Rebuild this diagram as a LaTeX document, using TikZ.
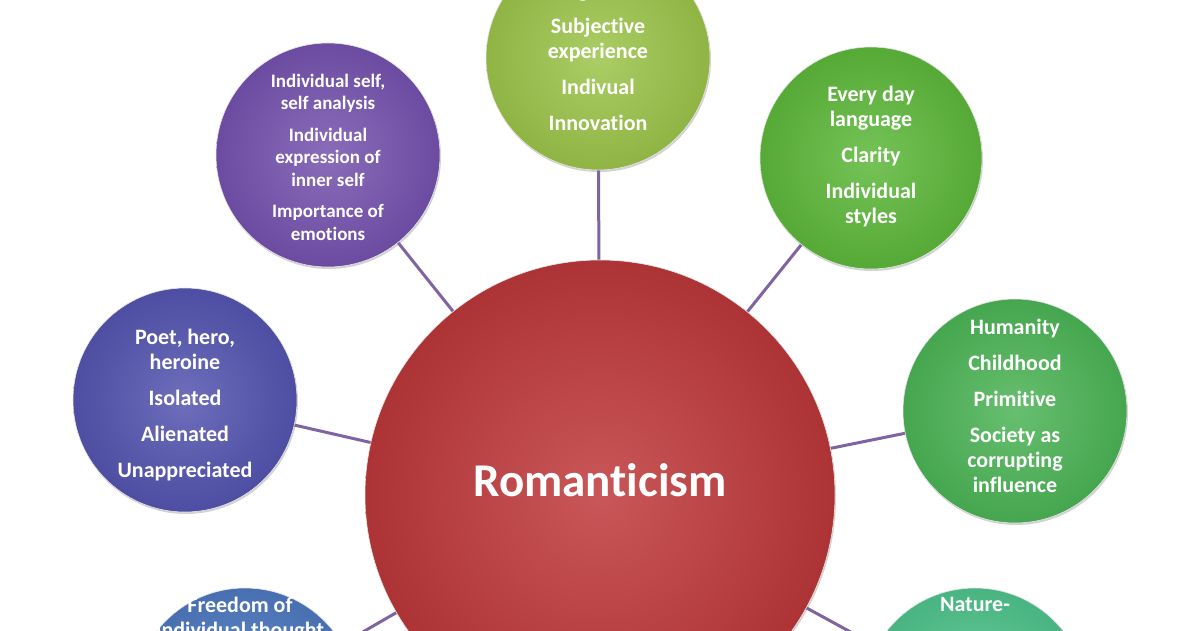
\documentclass[tikz,border=0pt]{standalone}
\usepackage{fontspec}
\setmainfont[Ligatures=NoCommon]{Carlito}
\usetikzlibrary{shadows}
\definecolor{cRed}{HTML}{C0393B}
\definecolor{cTop}{HTML}{9CC44A}
\definecolor{cTR}{HTML}{5DB83A}
\definecolor{cR}{HTML}{4CB456}
\definecolor{cBR}{HTML}{4FC48C}
\definecolor{cBL}{HTML}{4E79C0}
\definecolor{cL}{HTML}{5454B0}
\definecolor{cTL}{HTML}{7552AE}
\definecolor{cLine}{HTML}{8064A2}
\begin{document}
\begin{tikzpicture}[x=1pt,y=-1pt,
  ball/.style={circle,minimum size=#1,inner sep=0pt,draw=white!80!gray,line width=0.6pt,
     drop shadow={shadow xshift=1pt,shadow yshift=-2pt,opacity=0.35}},
  conn/.style={draw=cLine,line width=3pt},
  lbl/.style={text=white,font=\bfseries\fontsize{22}{25}\selectfont,align=center}]
\useasboundingbox (0,0) rectangle (1200,630);
\clip (0,0) rectangle (1200,630);
\fill[white] (0,0) rectangle (1200,630);
\coordinate (c) at (600,495);
\coordinate (t) at (598,58);
\coordinate (tr) at (871,158);
\coordinate (r) at (1015,411);
\coordinate (br) at (975,700);
\coordinate (bl) at (245,700);
\coordinate (l) at (185,400);
\coordinate (tl) at (328,155);
\foreach \n in {t,tr,r,br,bl,l,tl}{\path[conn] (c) -- (\n);}
\node[ball=470pt,inner color=cRed!85!white,outer color=cRed!90!black] (cb) at (c) {};
\node[ball=224pt,inner color=cTop!85!white,outer color=cTop!92!black] (tb) at (t) {};
\node[ball=222pt,inner color=cTR!85!white,outer color=cTR!92!black] (trb) at (tr) {};
\node[ball=224pt,inner color=cR!85!white,outer color=cR!92!black] (rb) at (r) {};
\node[ball=224pt,inner color=cBR!85!white,outer color=cBR!92!black] (brb) at (br) {};
\node[ball=224pt,inner color=cBL!85!white,outer color=cBL!92!black] (blb) at (bl) {};
\node[ball=224pt,inner color=cL!85!white,outer color=cL!92!black] (lb) at (l) {};
\node[ball=224pt,inner color=cTL!85!white,outer color=cTL!92!black] (tlb) at (tl) {};
\node[lbl,font=\bfseries\fontsize{47}{50}\selectfont] (ct) at (600,480) {Romanticism};
\node[lbl] (tt) at (598,56) {Imagination\\[11pt]Subjective\\experience\\[11pt]Indivual\\[11pt]Innovation};
\node[lbl] (trt) at (871,157) {Every day\\language\\[11pt]Clarity\\[11pt]Individual\\styles};
\node[lbl] (rt) at (1015,406) {Humanity\\[11pt]Childhood\\[11pt]Primitive\\[11pt]Society as\\corrupting\\influence};
\node[lbl,anchor=north] (brt) at (975,594) {Nature-};
\node[lbl,anchor=north] (blt) at (240,594) {Freedom of\\individual thought};
\node[lbl] (lt) at (185,405) {Poet, hero,\\heroine\\[11pt]Isolated\\[11pt]Alienated\\[11pt]Unappreciated};
\node[lbl,font=\bfseries\fontsize{19}{22.5}\selectfont] (tlt) at (328,157) {Individual self,\\self analysis\\[9pt]Individual\\expression of\\inner self\\[9pt]Importance of\\emotions};
\end{tikzpicture}
\end{document}
